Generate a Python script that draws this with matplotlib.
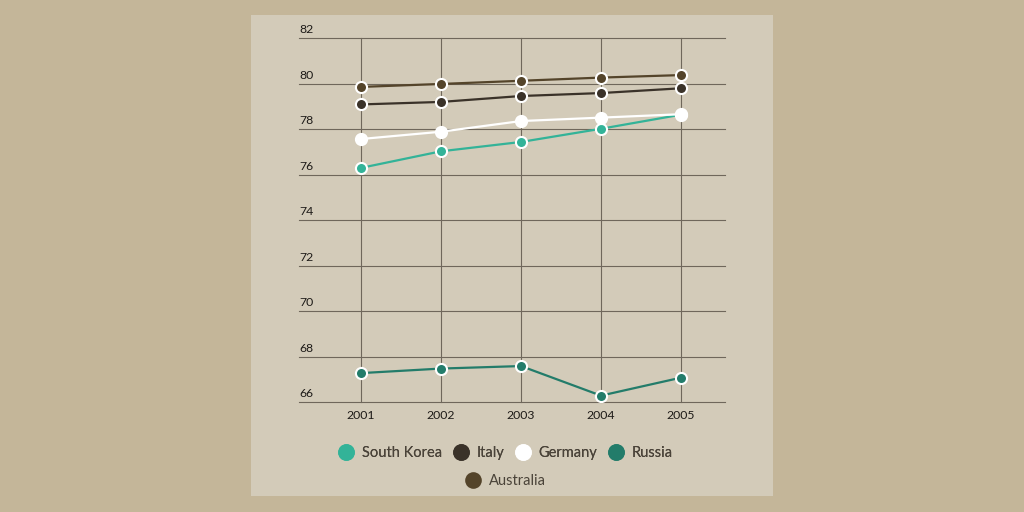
import matplotlib
matplotlib.use("Agg")
import matplotlib.pyplot as plt
from matplotlib.patches import Rectangle
from matplotlib.lines import Line2D

years = [2001, 2002, 2003, 2004, 2005]
series_names = ["South Korea", "Italy", "Germany", "Russia", "Australia"]
south_korea = [76.29, 77.02, 77.43, 78.01, 78.63]
italy = [79.08, 79.19, 79.45, 79.58, 79.79]
germany = [77.56, 77.88, 78.35, 78.50, 78.65]
russia = [67.27, 67.47, 67.58, 66.28, 67.07]
australia = [79.85, 79.98, 80.12, 80.26, 80.37]
y_ticks = [66, 68, 70, 72, 74, 76, 78, 80, 82]
x_labels = ["2001", "2002", "2003", "2004", "2005"]

colors = ["#33B398", "#3A3229", "#FFFFFF", "#237C6A", "#54442A"]
values = [south_korea, italy, germany, russia, australia]

plt.rcParams['font.family'] = ['Lato', 'DejaVu Sans']

fig = plt.figure(figsize=(10.24, 5.12), dpi=100)
fig.patch.set_facecolor("#C4B699")

panel = Rectangle((251 / 1024, 1 - 496 / 512), 522 / 1024, 481 / 512,
                  transform=fig.transFigure, facecolor="#D3CBB9", edgecolor="none",
                  zorder=-5)
fig.patches.append(panel)

ax = fig.add_axes([299 / 1024, 1 - 402 / 512, 426 / 1024, 364 / 512])
ax.set_zorder(5)
ax.set_facecolor("none")
ax.set_xlim(2000.225, 2005.55)
ax.set_ylim(66, 82)

grid_color = "#6F675B"
for yv in y_ticks:
    ax.axhline(yv, color=grid_color, lw=0.8, zorder=1, clip_on=False)
    ax.text(0.0, yv + 0.12, str(yv), transform=ax.get_yaxis_transform(),
            ha="left", va="bottom", fontsize=8.8, color="#1E1B18")
for xv in years:
    ax.axvline(xv, color=grid_color, lw=0.8, zorder=1, clip_on=False)

for name, vals, c in zip(series_names, values, colors):
    ax.plot(years, vals, color=c, lw=1.6, marker="o", markersize=8,
            markerfacecolor=c, markeredgecolor="white", markeredgewidth=1.5,
            zorder=3, label=name, clip_on=False)

ax.set_xticks(years)
ax.set_xticklabels(x_labels, fontsize=8.8, color="#1E1B18")
ax.tick_params(axis="x", length=0, pad=6)
ax.set_yticks([])
for s in ax.spines.values():
    s.set_visible(False)

def handle(c):
    return Line2D([], [], linestyle="none", marker="o", markersize=12,
                  markerfacecolor=c, markeredgecolor="none")

leg1 = fig.legend([handle(c) for c in colors[:4]], series_names[:4],
                  loc="center", bbox_to_anchor=(506 / 1024, 1 - 453 / 512),
                  ncol=4, frameon=False, fontsize=10.5, handlelength=1.0,
                  handletextpad=0.6, columnspacing=0.75, labelcolor="#4A4339")
leg2 = fig.legend([handle(colors[4])], series_names[4:],
                  loc="center", bbox_to_anchor=(506 / 1024, 1 - 481 / 512),
                  ncol=1, frameon=False, fontsize=10.5, handlelength=1.0,
                  handletextpad=0.6, labelcolor="#4A4339")
fig.add_artist(leg1)

fig.savefig("out.png", dpi=100, facecolor=fig.get_facecolor())
